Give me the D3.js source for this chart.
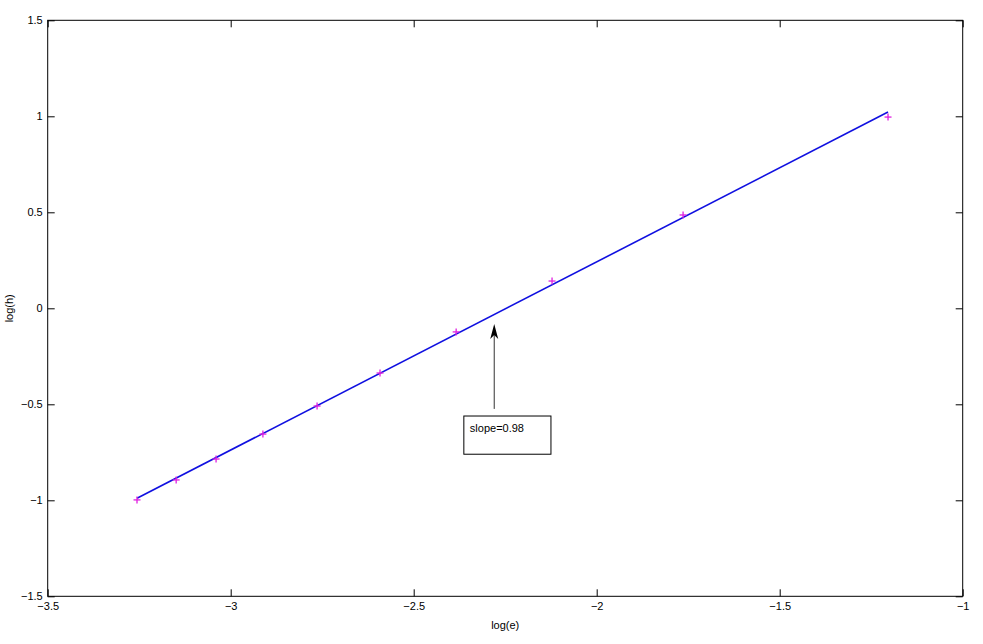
<!DOCTYPE html>
<html><head><meta charset="utf-8">
<script src="https://cdn.jsdelivr.net/npm/d3@7"></script>
<style>body{margin:0;background:#fff}svg{display:block}text{font-family:"Liberation Sans",Arial,Helvetica,sans-serif}</style>
</head><body><svg id="c" width="983" height="644"></svg>
<script>
const logE = [-3.256, -3.149, -3.040, -2.912, -2.764, -2.592, -2.384, -2.122, -1.764, -1.204];
const logH = [-0.998, -0.894, -0.785, -0.655, -0.509, -0.337, -0.123, 0.142, 0.486, 0.996];
const fitX = [-3.256, -1.204];
const fitY = [-0.989, 1.022];
const xTicks = [-3.5, -3, -2.5, -2, -1.5, -1];
const yTicks = [-1.5, -1, -0.5, 0, 0.5, 1, 1.5];
const arrowX = -2.28, arrowFromY = -0.524, arrowToY = -0.082;
const boxX = [-2.363, -2.125], boxY = [-0.561, -0.76];
const slopeLabel = "slope=0.98";

const svg = d3.select("#c");
const L = 47.7, R = 962.7, T = 20.3, B = 596.3;
const x = d3.scaleLinear().domain([-3.5, -1]).range([L, R]);
const y = d3.scaleLinear().domain([-1.5, 1.5]).range([B, T]);
const fmt = d => (d < 0 ? "\u2212" : "") + Math.abs(d);

const g = svg.append("g");
// frame
g.append("rect").attr("x", L).attr("y", T).attr("width", R - L).attr("height", B - T)
  .attr("fill", "none").attr("stroke", "#000").attr("stroke-width", 1);

const tl = 7;
const axStyle = sel => { sel.select(".domain").remove(); sel.selectAll("line").attr("stroke", "#000"); sel.selectAll("text").attr("font-size", 11).attr("fill", "#000"); };
g.append("g").attr("transform", `translate(0,${B})`)
  .call(d3.axisBottom(x).tickValues(xTicks).tickFormat(fmt).tickSizeInner(-tl).tickSizeOuter(0).tickPadding(6))
  .call(axStyle);
g.append("g").attr("transform", `translate(0,${T})`)
  .call(d3.axisTop(x).tickValues(xTicks).tickFormat("").tickSizeInner(-tl).tickSizeOuter(0))
  .call(axStyle);
g.append("g").attr("transform", `translate(${L},0)`)
  .call(d3.axisLeft(y).tickValues(yTicks).tickFormat(fmt).tickSizeInner(-tl).tickSizeOuter(0).tickPadding(5))
  .call(axStyle);
g.append("g").attr("transform", `translate(${R},0)`)
  .call(d3.axisRight(y).tickValues(yTicks).tickFormat("").tickSizeInner(-tl).tickSizeOuter(0))
  .call(axStyle);
svg.selectAll(".tick line").filter(function(){return true;});

// axis labels
svg.append("text").attr("x", (L + R) / 2).attr("y", 629).attr("text-anchor", "middle").attr("font-size", 11).text("log(e)");
svg.append("text").attr("transform", `translate(13,${(T + B) / 2}) rotate(-90)`).attr("text-anchor", "middle").attr("font-size", 11).text("log(h)");

// fit line
const line = d3.line().x(d => x(d[0])).y(d => y(d[1]));
svg.append("path").datum(d3.zip(fitX, fitY)).attr("d", line)
  .attr("fill", "none").attr("stroke", "#1010e0").attr("stroke-width", 1.6);

// markers
const pts = d3.zip(logE, logH);
const m = svg.append("g").attr("stroke", "#e020e0").attr("stroke-width", 1.3);
pts.forEach(p => {
  const cx = x(p[0]), cy = y(p[1]);
  m.append("line").attr("x1", cx - 3.5).attr("x2", cx + 3.5).attr("y1", cy).attr("y2", cy);
  m.append("line").attr("x1", cx).attr("x2", cx).attr("y1", cy - 3.5).attr("y2", cy + 3.5);
});

// annotation arrow
const ax = x(arrowX), ay1 = y(arrowFromY), ay2 = y(arrowToY);
svg.append("line").attr("x1", ax).attr("x2", ax).attr("y1", ay1).attr("y2", ay2 + 8)
  .attr("stroke", "#333").attr("stroke-width", 1);
svg.append("path").attr("d", `M${ax},${ay2} L${ax - 4},${ay2 + 15} L${ax},${ay2 + 11} L${ax + 4},${ay2 + 15} Z`).attr("fill", "#000");

// box
svg.append("rect").attr("x", x(boxX[0])).attr("y", y(boxY[0])).attr("width", x(boxX[1]) - x(boxX[0])).attr("height", y(boxY[1]) - y(boxY[0]))
  .attr("fill", "#fff").attr("stroke", "#000").attr("stroke-width", 1);
svg.append("text").attr("x", x(boxX[0]) + 6).attr("y", y(boxY[0]) + 16).attr("font-size", 11).text(slopeLabel);
</script></body></html>
